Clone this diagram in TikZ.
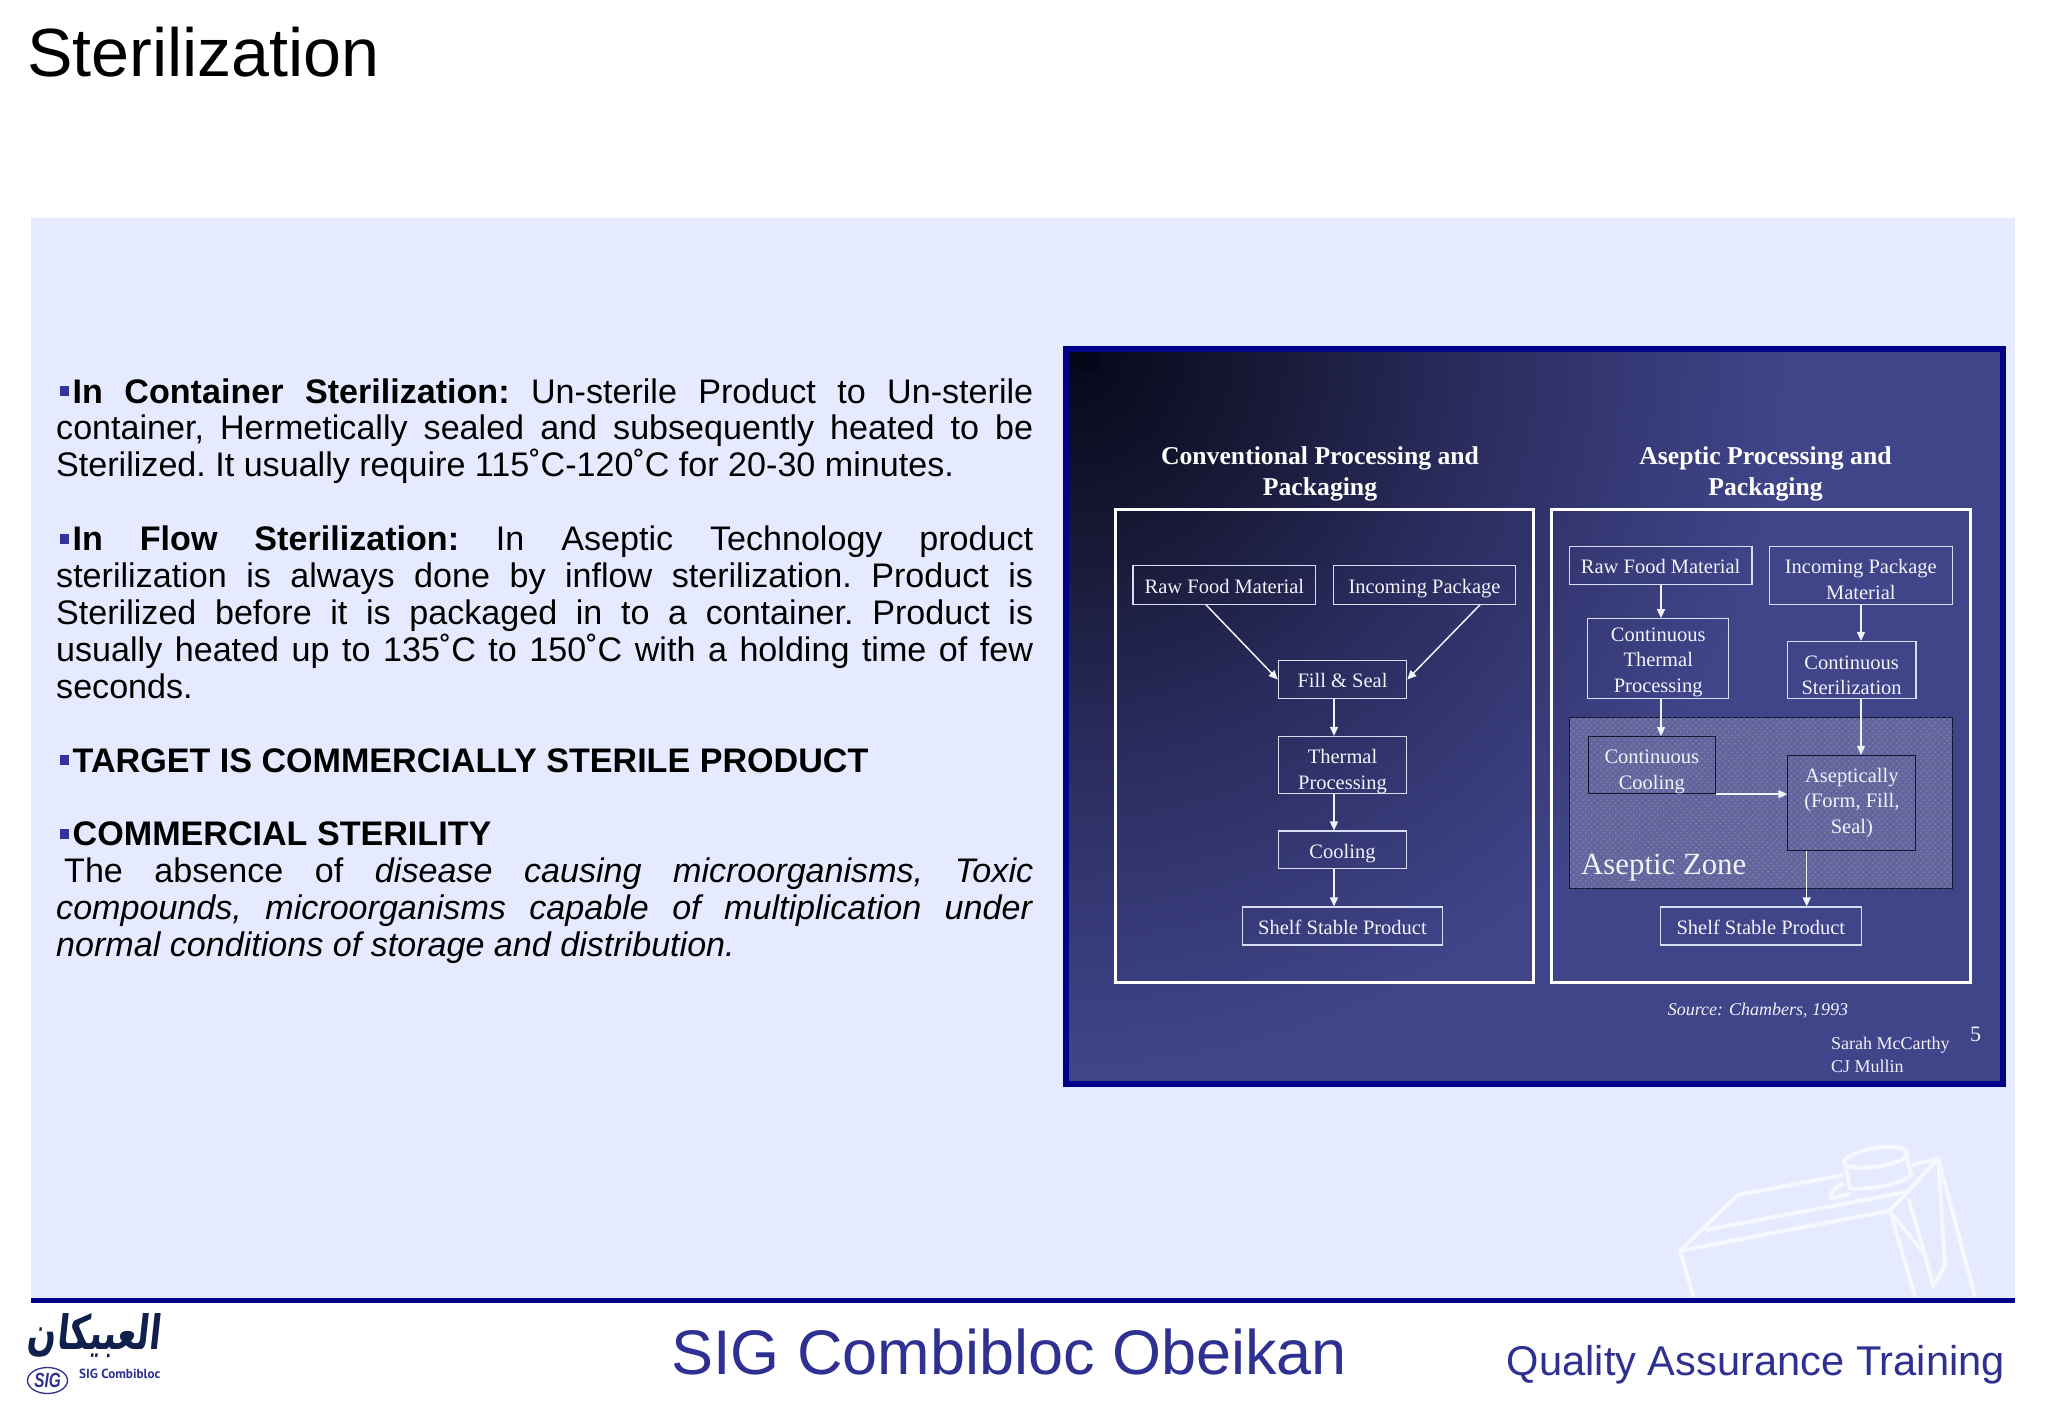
\documentclass[tikz,border=0pt]{standalone}
\usepackage{fontspec}
\usepackage{graphicx}
\usetikzlibrary{arrows.meta,calc,shapes.geometric,patterns.meta}
\TeXXeTstate=1
\setmainfont{Liberation Sans}
\newfontfamily\serifface{Liberation Serif}
\newfontfamily\logoface{PT Sans}
\newfontfamily\arabicfont[Script=Arabic,FakeSlant=0.15]{DejaVu Sans}
\definecolor{bandbg}{HTML}{E6EAFE}
\definecolor{navyline}{HTML}{00008A}
\definecolor{inkblue}{HTML}{2E3192}
\definecolor{bulletblue}{HTML}{33339A}
\definecolor{panelA}{HTML}{07071A}
\definecolor{panelB}{HTML}{14152F}
\definecolor{panelC}{HTML}{2A2C5E}
\definecolor{panelD}{HTML}{40458A}
\definecolor{boxline}{HTML}{D9DDF2}
\definecolor{boxtext}{HTML}{F1F2FA}
\definecolor{zonefill}{HTML}{62659C}
\definecolor{zonedots}{HTML}{7B7FAF}
\definecolor{zoneline}{HTML}{15162E}
\definecolor{cartonline}{HTML}{F7F8FF}
\definecolor{logonavy}{HTML}{101F4C}
\pgfdeclareradialshading{cornerglow}{\pgfpointorigin}{color(0bp)=(panelA); color(5.5bp)=(panelB); color(14bp)=(panelC); color(25bp)=(panelD); color(50bp)=(panelD)}
\newcommand\sqb{\leavevmode\hspace{3.5pt}\textcolor{bulletblue}{\rule[7pt]{9pt}{10pt}}\hspace{4pt}}
\newcommand\blab[2]{\raisebox{#1pt}[0pt][0pt]{\fontsize{20.5}{25.7}\selectfont\serifface\begin{tabular}[t]{@{}c@{}}#2\end{tabular}}}
\tikzset{
  flowbox/.style={draw=boxline,line width=1.2pt,inner sep=0pt,text=boxtext},
  darkbox/.style={draw=zoneline,line width=1pt,inner sep=0pt,text=boxtext},
  flowarrow/.style={draw=boxtext,line width=1.5pt,-{Triangle[length=9pt,width=8pt]}},
  bigframe/.style={draw=white,line width=3pt},
  headtext/.style={text=white,align=center,inner sep=0pt,font=\serifface\bfseries\fontsize{25.7}{31}\selectfont},
  cartonstroke/.style={draw=cartonline,line width=4pt,line join=round}
}
\begin{document}
\begin{tikzpicture}[x=1pt,y=-1pt]
\useasboundingbox (0,0) rectangle (2048,1418);
\fill[white] (0,0) rectangle (2048,1418);
% band
\fill[bandbg] (31,218) rectangle (2015,1298);
% carton watermark
\begin{scope}[shift={(1600,1120)},x=0.3333pt,y=-0.3333pt]
\draw[cartonstroke] (280,530) -- (240,392) -- (413,225) -- (730,165);
\draw[cartonstroke] (240,392) -- (870,272) -- (1015,115) -- (1125,530);
\draw[cartonstroke] (315,330) -- (925,215);
\draw[cartonstroke] (870,272) -- (945,530);
\draw[cartonstroke] (925,235) -- (975,405) -- (1000,500) -- (1035,435) -- (1015,125);
\draw[cartonstroke] (880,285) -- (975,405);
\draw[cartonstroke] (935,135) -- (1015,115);
\draw[cartonstroke] (730,130) .. controls (735,95) and (860,70) .. (910,85) .. controls (925,95) and (925,105) .. (905,120) .. controls (860,140) and (760,155) .. (730,130);
\draw[cartonstroke] (735,130) -- (750,205) .. controls (800,210) and (900,195) .. (935,165) -- (915,95);
\draw[cartonstroke] (730,190) .. controls (700,205) and (685,225) .. (695,235) -- (750,222);
\end{scope}
% rule under band
\fill[navyline] (31,1298) rectangle (2015,1303);
% title
\node[anchor=base west,inner sep=0pt,font=\fontsize{68.2}{80}\selectfont] (title) at (27,76.5) {Sterilization};
% body text
\node[anchor=base west,inner sep=0pt] (body) at (56,403) {\begin{minipage}[t]{977pt}
\fontsize{34.1}{36.9}\selectfont\frenchspacing\parindent=0pt\parskip=0pt\tolerance=10000\hbadness=10000\hfuzz=30pt
\sqb\textbf{In Container Sterilization:} Un-sterile Product to Un-sterile\linebreak
container, Hermetically sealed and subsequently heated to be\linebreak
Sterilized. It usually require 115˚C-120˚C for 20-30 minutes.\par
\vspace{36.9pt}
\sqb\textbf{In Flow Sterilization:} In Aseptic Technology product\linebreak
sterilization is always done by inflow sterilization. Product is\linebreak
Sterilized before it is packaged in to a container. Product is\linebreak
usually heated up to 135˚C to 150˚C with a holding time of few\linebreak
seconds.\par
\vspace{36.9pt}
\sqb\textbf{TARGET IS COMMERCIALLY STERILE PRODUCT}\par
\vspace{36.9pt}
\sqb\textbf{COMMERCIAL STERILITY}\par
\leavevmode\hspace{8pt}The absence of \textit{disease causing microorganisms, Toxic}\linebreak
\textit{compounds, microorganisms capable of multiplication under}\linebreak
\textit{normal conditions of storage and distribution.}\par
\end{minipage}};
% panel
\fill[panelD] (1063,346) rectangle (2006,1086.5);
\begin{scope}
\clip (1069,352) rectangle (2001,1081);
\shade[shading=cornerglow] (1069,352) circle[radius=720];
\fill[panelA] (1069,352) rectangle (1100,372);
\end{scope}
\draw[navyline,line width=5.8pt] (1066,349) rectangle (2003,1083.6);
% headings
\node[headtext,anchor=base] (headL) at (1320,495.5) {Conventional Processing and\\Packaging};
\node[headtext,anchor=base] (headR) at (1765.5,495.5) {Aseptic Processing and\\Packaging};
% frames
\node[bigframe,minimum width=418pt,minimum height=473pt,inner sep=0pt] (frameL) at (1324.5,745.5) {};
\node[bigframe,minimum width=418.5pt,minimum height=473pt,inner sep=0pt] (frameR) at (1760.75,745.5) {};
% left flow
\node[flowbox,minimum width=182.7pt,minimum height=38.8pt] (rawL) at (1224.4,584.8) {\blab{-8.2}{Raw Food Material}};
\node[flowbox,minimum width=182.4pt,minimum height=38.8pt] (incL) at (1424.5,584.8) {\blab{-8.2}{Incoming Package}};
\node[flowbox,minimum width=128.4pt,minimum height=38.3pt] (fillL) at (1342.5,679.5) {\blab{-8}{Fill \& Seal}};
\node[flowbox,minimum width=128.4pt,minimum height=57.2pt] (thermL) at (1342.5,765.1) {\blab{1.5}{Thermal\\Processing}};
\node[flowbox,minimum width=128.4pt,minimum height=37.8pt] (coolL) at (1342.5,849.9) {\blab{-8.3}{Cooling}};
\node[flowbox,minimum width=200.4pt,minimum height=38pt] (shelfL) at (1342.5,926) {\blab{-8}{Shelf Stable Product}};
\coordinate (xL) at (1334,0);
\coordinate (rawLout) at (1206,0);
\coordinate (incLout) at (1480,0);
\draw[flowarrow] (rawL.south -| rawLout) -- (fillL.west);
\draw[flowarrow] (incL.south -| incLout) -- (fillL.east);
\draw[flowarrow] (fillL.south -| xL) -- (thermL.north -| xL);
\draw[flowarrow] (thermL.south -| xL) -- (coolL.north -| xL);
\draw[flowarrow] (coolL.south -| xL) -- (shelfL.north -| xL);
% right flow
\node[draw=zoneline,line width=1.2pt,fill=zonefill,inner sep=0pt,minimum width=383pt,minimum height=171.1pt,postaction={pattern={Dots[radius=1.1pt,distance=4pt,angle=45]},pattern color=zonedots}] (zone) at (1760.8,803.15) {};
\node[anchor=base west,inner sep=0pt,text=boxtext,font=\serifface\fontsize{30.8}{36}\selectfont] (zoneText) at (1581,874.6) {Aseptic Zone};
\node[flowbox,minimum width=182.7pt,minimum height=38.3pt] (rawR) at (1660.6,565.6) {\blab{-8}{Raw Food Material}};
\node[flowbox,minimum width=183pt,minimum height=57.7pt] (incR) at (1860.8,575.3) {\blab{1.7}{Incoming Package\\Material}};
\node[flowbox,minimum width=141pt,minimum height=80pt] (ctp) at (1658.2,658.7) {\blab{17.7}{Continuous\\Thermal\\Processing}};
\node[flowbox,minimum width=128.7pt,minimum height=57.2pt] (cs) at (1851.6,670.1) {\blab{1}{Continuous\\Sterilization}};
\node[darkbox,minimum width=127pt,minimum height=57.2pt] (cc) at (1651.8,765.1) {\blab{1.5}{Continuous\\Cooling}};
\node[darkbox,minimum width=127.7pt,minimum height=94.6pt] (aff) at (1851.8,802.7) {\blab{20.5}{Aseptically\\(Form, Fill,\\Seal)}};
\node[flowbox,minimum width=201pt,minimum height=38pt] (shelfR) at (1760.8,926) {\blab{-8}{Shelf Stable Product}};
\coordinate (xA) at (1661,0);
\coordinate (xB) at (1861,0);
\coordinate (xC) at (1806.7,0);
\draw[flowarrow] (rawR.south -| xA) -- (ctp.north -| xA);
\draw[flowarrow] (ctp.south -| xA) -- (cc.north -| xA);
\draw[flowarrow] (incR.south -| xB) -- (cs.north -| xB);
\draw[flowarrow] (cs.south -| xB) -- (aff.north -| xB);
\draw[flowarrow] (cc.south east) -- (aff.west |- cc.south east);
\draw[flowarrow] (aff.south -| xC) -- (shelfR.north -| xC);
% captions
\node[anchor=base,inner sep=0pt,text=boxtext,font=\serifface\itshape\fontsize{18}{22}\selectfont] (source) at (1758,1015) {Source: Chambers, 1993};
\node[anchor=base west,inner sep=0pt,text=boxtext,font=\serifface\fontsize{18}{22}\selectfont] (nameA) at (1831,1049) {Sarah McCarthy};
\node[anchor=base west,inner sep=0pt,text=boxtext,font=\serifface\fontsize{18}{22}\selectfont] (nameB) at (1831,1072) {CJ Mullin};
\node[anchor=base west,inner sep=0pt,text=boxtext,font=\serifface\fontsize{22}{24}\selectfont] (pageno) at (1970,1041) {5};
% footer
\node[anchor=base west,inner sep=0pt,text=inkblue,font=\fontsize{63}{70}\selectfont] (footA) at (671,1374) {SIG Combibloc Obeikan};
\node[anchor=base east,inner sep=0pt,text=inkblue,font=\fontsize{41.6}{48}\selectfont] (footB) at (2005,1375) {Quality Assurance Training};
% logo
\node[inner sep=0pt,text=logonavy] (logoAr) at (93.5,1336) {\resizebox{133pt}{36pt}{\arabicfont\bfseries\beginR العبيكان\endR}};
\node[draw=inkblue,line width=1.3pt,fill=white,ellipse,inner sep=0pt,minimum width=40pt,minimum height=26pt,text=inkblue] (sigmark) at (47.5,1380.5) {\scalebox{0.75}[1]{\bfseries\itshape\fontsize{20.5}{22}\selectfont SIG}};
\node[anchor=base west,inner sep=0pt,text=inkblue,font=\logoface\bfseries\fontsize{13.2}{15}\selectfont] (sigtext) at (79,1378) {SIG Combibloc};
\end{tikzpicture}
\end{document}
